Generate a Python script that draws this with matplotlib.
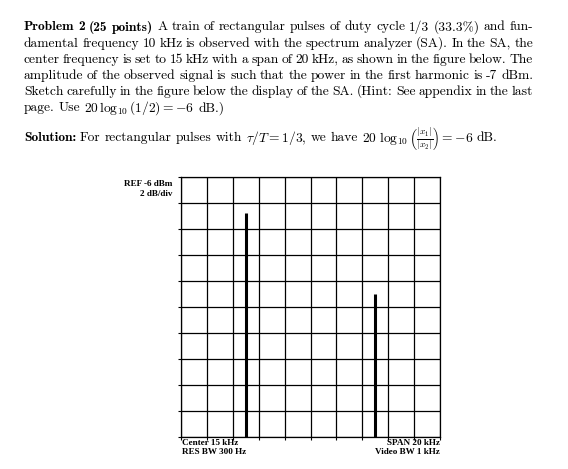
import matplotlib
matplotlib.use("Agg")
import matplotlib.pyplot as plt
import numpy as np

plt.rcParams['mathtext.fontset'] = 'cm'
plt.rcParams['axes.unicode_minus'] = False

freqs_khz = [10, 20]
power_dbm = [-8.8, -15.0]
ref_dbm = -6
db_per_div = 2
center_khz = 15
span_khz = 20

W, H = 568, 469
fig = plt.figure(figsize=(W/100, H/100), dpi=100)
fs = 9.7

lines = [
    [("Problem 2 (25 points)", 'b'), ("A train of rectangular pulses of duty cycle 1/3 (33.3%) and fun-", 'n')],
    [("damental frequency 10 kHz is observed with the spectrum analyzer (SA). In the SA, the", 'n')],
    [("center frequency is set to 15 kHz with a span of 20 kHz, as shown in the figure below. The", 'n')],
    [("amplitude of the observed signal is such that the power in the first harmonic is -7 dBm.", 'n')],
    [("Sketch carefully in the figure below the display of the SA. (Hint: See appendix in the last", 'n')],
]
ys = [27, 43.5, 59.5, 75.5, 91.5]
x0, x1 = 24, 533
fig.canvas.draw()
r = fig.canvas.get_renderer()

def place(words, y, justify=True):
    objs = []
    for w, st in words:
        t = fig.text(0, 1 - y/H, w, fontsize=fs, va='center', ha='left',
                     family='cmb10' if st == 'b' else 'cmr10')
        objs.append(t)
    widths = [o.get_window_extent(r).width for o in objs]
    n = len(objs)
    gap = (x1 - x0 - sum(widths)) / (n - 1) if (justify and n > 1) else 4.0
    x = x0
    for o, wd in zip(objs, widths):
        o.set_x(x / W)
        x += wd + gap

for ln, y in zip(lines, ys):
    words = []
    for seg, st in ln:
        for w in seg.split(' '):
            words.append((w, st))
    place(words, y)

place([(w, 'n') for w in ["page.", "Use", r"$20\,\log_{10}(1/2)=-6$", "dB.)"]], 108, justify=False)
sol = [("Solution:", 'b')] + [(w, 'n') for w in ["For", "rectangular", "pulses", "with", r"$\tau/T=1/3,$",
       "we", "have", r"$20\ \log_{10}\left(\frac{|x_1|}{|x_2|}\right)=-6$", "dB."]]
place(sol, 138, justify=False)

ax = fig.add_axes([181/W, (H-437)/H, 259/W, 260/H])
fmin, fmax = center_khz - span_khz/2, center_khz + span_khz/2
ax.set_xlim(fmin, fmax)
ax.set_ylim(ref_dbm - 10*db_per_div, ref_dbm)
ax.set_xticks(np.linspace(fmin, fmax, 11))
ax.set_yticks(np.linspace(ref_dbm - 10*db_per_div, ref_dbm, 11))
ax.grid(True, color='black', lw=0.9)
ax.tick_params(length=2, labelleft=False, labelbottom=False, width=0.8)
for s in ax.spines.values():
    s.set_linewidth(0.9)
ax.vlines(freqs_khz, ref_dbm - 10*db_per_div, power_dbm, color='black', lw=2.2, zorder=3)

lf = dict(family='Liberation Serif', fontweight='bold', fontsize=6.6)
fig.text(172/W, 1-184/H, "REF -6 dBm", ha='right', va='center', **lf)
fig.text(172/W, 1-194/H, "2 dB/div", ha='right', va='center', **lf)
fig.text(182/W, 1-443/H, "Center 15 kHz", ha='left', va='center', **lf)
fig.text(182/W, 1-452/H, "RES BW 300 Hz", ha='left', va='center', **lf)
fig.text(440/W, 1-443/H, "SPAN 20 kHz", ha='right', va='center', **lf)
fig.text(440/W, 1-452/H, "Video BW 1 kHz", ha='right', va='center', **lf)

fig.savefig("out.png", dpi=100)
